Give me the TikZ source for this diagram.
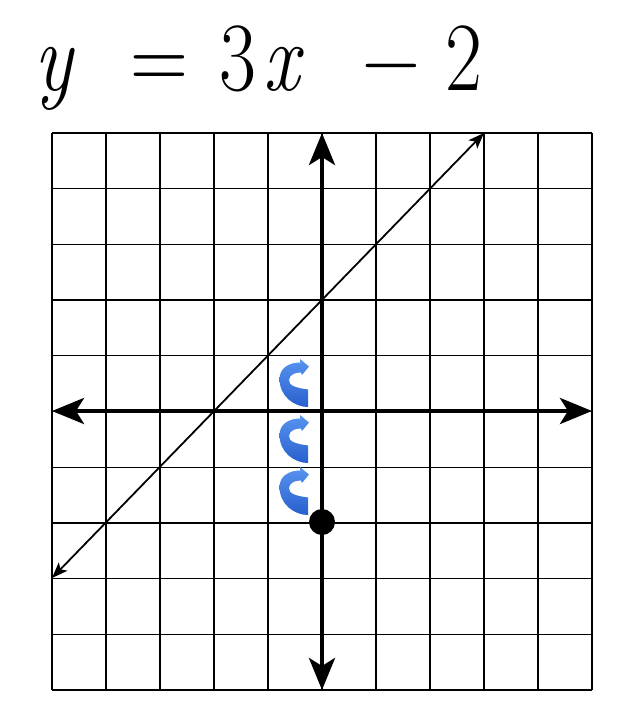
\documentclass[tikz,border=0pt]{standalone}
\usepackage{fontspec}
\usepackage{graphicx}
\usetikzlibrary{arrows.meta}
\definecolor{curltop}{RGB}{88,148,240}
\definecolor{curlbot}{RGB}{40,95,205}
\tikzset{
  gridline/.style={line width=1.3, black},
  axisline/.style={line width=4.5, black, {Stealth[length=32,width=26,inset=8]}-{Stealth[length=32,width=26,inset=8]}},
  graphline/.style={line width=1.8, black, {Stealth[length=16,width=12,inset=4]}-{Stealth[length=16,width=12,inset=4]}},
  curlshape/.style={top color=curltop, bottom color=curlbot, draw=none},
}
\begin{document}
\begin{tikzpicture}[x=1pt,y=-1pt]
\useasboundingbox (0,0) rectangle (628,720);
\fill[white] (0,0) rectangle (628,720);
% title
\node[anchor=base west, inner sep=0] (title) at (34,90)
  {\scalebox{0.82}[1]{\fontsize{98}{100}\selectfont \textit{y}\hspace{68pt}=\hspace{38pt}3\hspace{8pt}\textit{x}\hspace{72pt}−\hspace{30pt}2}};
% grid
\foreach \i in {0,...,10} {
  \draw[gridline] ({52+54*\i},133) -- ({52+54*\i},690);
  \draw[gridline] (52,{133+55.7*\i}) -- (592,{133+55.7*\i});
}
% axes
\coordinate (xl) at (52,411);
\coordinate (xr) at (592,411);
\coordinate (yt) at (322,133);
\coordinate (yb) at (322,690);
\draw[axisline] (xl) -- (xr);
\draw[axisline] (yb) -- (yt);
% graph line
\coordinate (gl) at (52,578);
\coordinate (gr) at (484,133);
\draw[graphline] (gl) -- (gr);
% curl arrows
\foreach \dy in {0,56,108} {
  \begin{scope}[shift={(0,\dy)}]
  \path[curlshape] (308,407) -- (308,389.5)
    .. controls (297,388) and (288.5,386) .. (289,380)
    .. controls (289.5,374.5) and (295,372.5) .. (301,372.5)
    -- (302,375) -- (309,366.5) -- (300,359) -- (300.3,362.5)
    .. controls (289,362.5) and (279.5,368) .. (279.5,379)
    .. controls (279.5,396) and (294,407) .. (308,407) -- cycle;
  \end{scope}
}
% point
\fill[black] (322,522) circle (13);
\end{tikzpicture}
\end{document}
